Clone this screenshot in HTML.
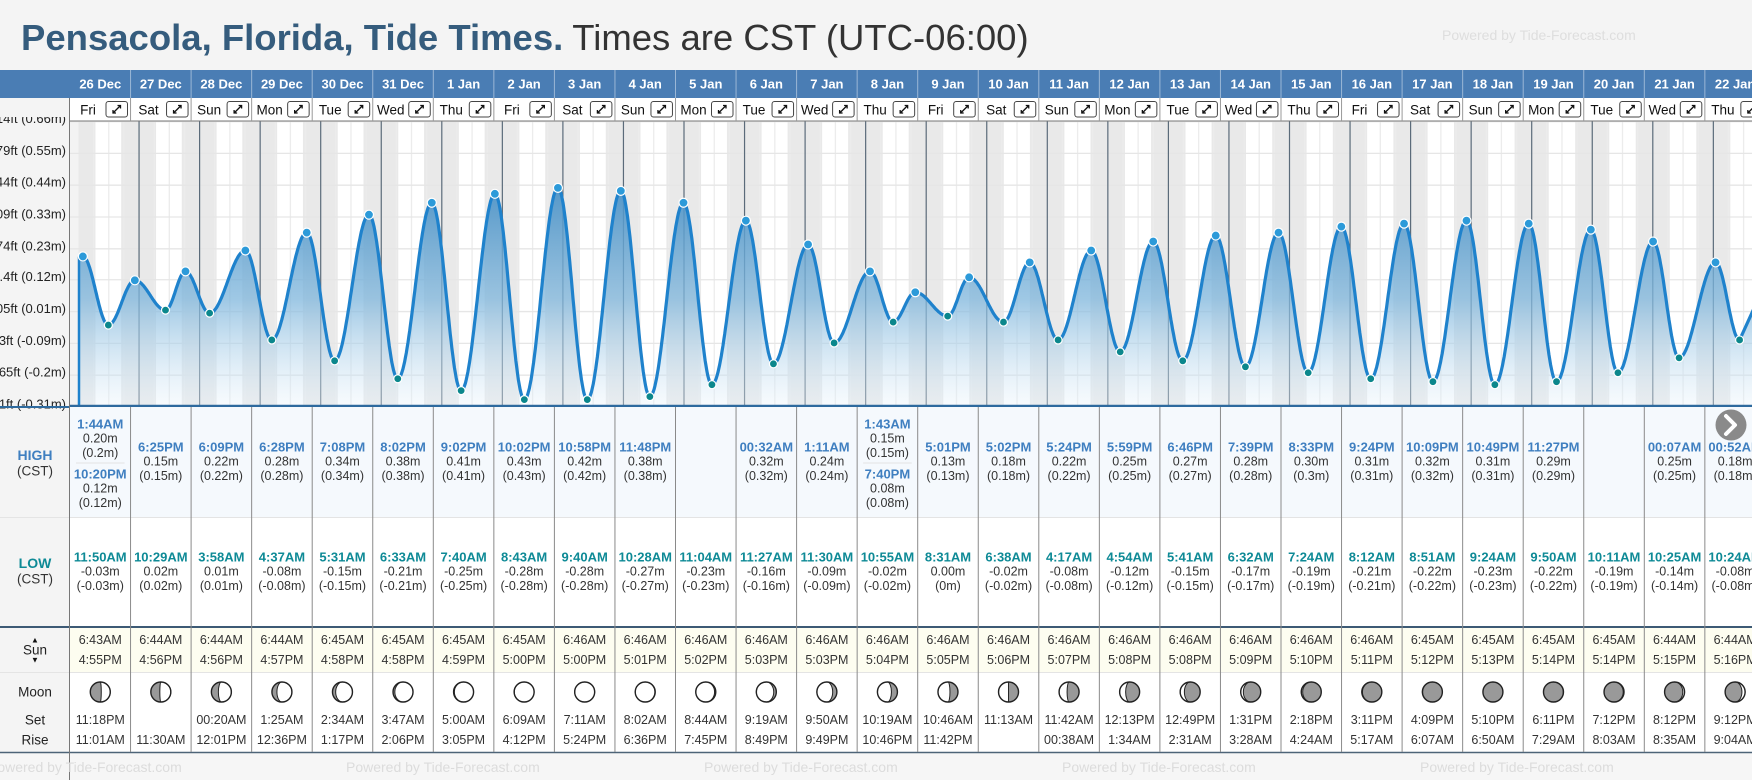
<!DOCTYPE html>
<html><head><meta charset="utf-8">
<style>
html,body{margin:0;padding:0;background:#f4f4f4;overflow:hidden}
svg{display:block;font-family:"Liberation Sans",sans-serif}
</style></head>
<body>
<svg id="root" width="1752" height="780" viewBox="0 0 1752 780" xmlns="http://www.w3.org/2000/svg">
<defs>
<linearGradient id="fillg" x1="0" y1="170" x2="0" y2="406" gradientUnits="userSpaceOnUse">
<stop offset="0" stop-color="#3f8ac2" stop-opacity="0.95"/>
<stop offset="0.55" stop-color="#7fb6dc" stop-opacity="0.75"/>
<stop offset="1" stop-color="#e8f3fb" stop-opacity="0.35"/>
</linearGradient>
<clipPath id="chartclip"><rect x="70" y="121" width="1682" height="285"/></clipPath>
</defs>
<rect x="0" y="0" width="1752" height="780" fill="#f4f4f4"/>
<text x="21" y="50" font-size="36.5"><tspan font-weight="bold" fill="#355c7d">Pensacola, Florida, Tide Times.</tspan><tspan fill="#333" dx="9">Times are CST (UTC-06:00)</tspan></text>
<text x="1442" y="40" font-size="14" fill="#dedede">Powered by Tide-Forecast.com</text>
<g id="g"></g>
</svg>
<script>
const days=["26 Dec","27 Dec","28 Dec","29 Dec","30 Dec","31 Dec","1 Jan","2 Jan","3 Jan","4 Jan","5 Jan","6 Jan","7 Jan","8 Jan","9 Jan","10 Jan","11 Jan","12 Jan","13 Jan","14 Jan","15 Jan","16 Jan","17 Jan","18 Jan","19 Jan","20 Jan","21 Jan","22 Jan"];
const weekdays=["Fri","Sat","Sun","Mon","Tue","Wed","Thu","Fri","Sat","Sun","Mon","Tue","Wed","Thu","Fri","Sat","Sun","Mon","Tue","Wed","Thu","Fri","Sat","Sun","Mon","Tue","Wed","Thu"];
// tide extremes: day index, time string, type, height (m)
const tideDay=[0,0,0,1,1,2,2,3,3,4,4,5,5,6,6,7,7,8,8,9,9,10,11,11,12,12,13,13,13,14,14,15,15,16,16,17,17,18,18,19,19,20,20,21,21,22,22,23,23,24,24,25,26,26,27,27];
const tideTime=["1:44AM","11:50AM","10:20PM","10:29AM","6:25PM","3:58AM","6:09PM","4:37AM","6:28PM","5:31AM","7:08PM","6:33AM","8:02PM","7:40AM","9:02PM","8:43AM","10:02PM","9:40AM","10:58PM","10:28AM","11:48PM","11:04AM","00:32AM","11:27AM","1:11AM","11:30AM","1:43AM","10:55AM","7:40PM","8:31AM","5:01PM","6:38AM","5:02PM","4:17AM","5:24PM","4:54AM","5:59PM","5:41AM","6:46PM","6:32AM","7:39PM","7:24AM","8:33PM","8:12AM","9:24PM","8:51AM","10:09PM","9:24AM","10:49PM","9:50AM","11:27PM","10:11AM","00:07AM","10:25AM","00:52AM","10:24AM"];
const tideType=["H","L","H","L","H","L","H","L","H","L","H","L","H","L","H","L","H","L","H","L","H","L","H","L","H","L","H","L","H","L","H","L","H","L","H","L","H","L","H","L","H","L","H","L","H","L","H","L","H","L","H","L","H","L","H","L"];
const tideHeight=[0.20,-0.03,0.12,0.02,0.15,0.01,0.22,-0.08,0.28,-0.15,0.34,-0.21,0.38,-0.25,0.41,-0.28,0.43,-0.28,0.42,-0.27,0.38,-0.23,0.32,-0.16,0.24,-0.09,0.15,-0.02,0.08,0.00,0.13,-0.02,0.18,-0.08,0.22,-0.12,0.25,-0.15,0.27,-0.17,0.28,-0.19,0.30,-0.21,0.31,-0.22,0.32,-0.23,0.31,-0.22,0.29,-0.19,0.25,-0.14,0.18,-0.08];
const yTickFt=[-1,-0.65,-0.3,0.05,0.4,0.74,1.09,1.44,1.79,2.14];
const yTickLabels=["-1ft (-0.31m)","-.65ft (-0.2m)","-.3ft (-0.09m)",".05ft (0.01m)","0.4ft (0.12m)",".74ft (0.23m)","1.09ft (0.33m)","1.44ft (0.44m)","1.79ft (0.55m)","2.14ft (0.66m)"];
const sunrise=["6:43AM","6:44AM","6:44AM","6:44AM","6:45AM","6:45AM","6:45AM","6:45AM","6:46AM","6:46AM","6:46AM","6:46AM","6:46AM","6:46AM","6:46AM","6:46AM","6:46AM","6:46AM","6:46AM","6:46AM","6:46AM","6:46AM","6:45AM","6:45AM","6:45AM","6:45AM","6:44AM","6:44AM"];
const sunset=["4:55PM","4:56PM","4:56PM","4:57PM","4:58PM","4:58PM","4:59PM","5:00PM","5:00PM","5:01PM","5:02PM","5:03PM","5:03PM","5:04PM","5:05PM","5:06PM","5:07PM","5:08PM","5:08PM","5:09PM","5:10PM","5:11PM","5:12PM","5:13PM","5:14PM","5:14PM","5:15PM","5:16PM"];
const moonIllum=[0.45,0.55,0.65,0.75,0.84,0.91,0.96,0.99,1.0,0.98,0.94,0.87,0.79,0.70,0.60,0.50,0.40,0.30,0.21,0.13,0.07,0.03,0.01,0.0,0.01,0.04,0.09,0.16];
const moonWaxing=[1,1,1,1,1,1,1,1,1,0,0,0,0,0,0,0,0,0,0,0,0,0,0,0,1,1,1,1];
const moonSet=["11:18PM","","00:20AM","1:25AM","2:34AM","3:47AM","5:00AM","6:09AM","7:11AM","8:02AM","8:44AM","9:19AM","9:50AM","10:19AM","10:46AM","11:13AM","11:42AM","12:13PM","12:49PM","1:31PM","2:18PM","3:11PM","4:09PM","5:10PM","6:11PM","7:12PM","8:12PM","9:12PM"];
const moonRise=["11:01AM","11:30AM","12:01PM","12:36PM","1:17PM","2:06PM","3:05PM","4:12PM","5:24PM","6:36PM","7:45PM","8:49PM","9:49PM","10:46PM","11:42PM","","00:38AM","1:34AM","2:31AM","3:28AM","4:24AM","5:17AM","6:07AM","6:50AM","7:29AM","8:03AM","8:35AM","9:04AM"];

const NS="http://www.w3.org/2000/svg";
const G=document.getElementById('g');
const X0=70, CW=60.55, MID0=78.5;
function mk(tag,attrs,parent){const e=document.createElementNS(NS,tag);for(const k in attrs)e.setAttribute(k,attrs[k]);(parent||G).appendChild(e);return e;}
function txt(x,y,s,attrs,parent){const e=mk('text',Object.assign({x:x,y:y,'text-anchor':'middle','dominant-baseline':'central'},attrs||{}),parent);e.textContent=s;return e;}
function hrs(s){const m=s.match(/(\d+):(\d+)(AM|PM)/);let h=+m[1]%12;if(m[3]==='PM')h+=12;return h+(+m[2])/60;}
function xT(t){return MID0+t*CW/24;}
function yFt(ft){return 407-(ft+1)*90.9;}
function yM(m){return yFt(m*3.28084);}
function fmtP(v){return '('+parseFloat(v.toFixed(2))+'m)';}

let e;
e=mk('rect',{x:0,y:98,width:70,height:682,fill:'#f4f4f4'});



// chart
const cg=mk('g',{'clip-path':'url(#chartclip)'});


mk('rect',{x:70,y:121,width:1682,height:285,fill:'#f3f3f3'},cg);
for(let i=0;i<days.length+1;i++){
  const d=Math.min(i,days.length-1);
  const sx=xT(i*24+hrs(sunrise[d])), ex=xT(i*24+hrs(sunset[d]));
  mk('rect',{x:xT(i*24),y:121,width:CW,height:285,fill:'#e9e9e9'},cg);
  e=mk('rect',{x:sx,y:121,width:ex-sx,height:285,fill:'#fff'},cg);
  
  
  for(let q=1;q<4;q++){const lx=xT(i*24+q*6);mk('line',{x1:lx,x2:lx,y1:121,y2:406,stroke:'#ececec','stroke-width':1.3},cg);}
}
yTickFt.forEach(f=>{const y=yFt(f);mk('line',{x1:70,x2:1752,y1:y,y2:y,stroke:'#e6e6e6','stroke-width':1.3},cg);});
for(let i=1;i<=days.length;i++){const lx=xT(i*24);e=mk('line',{x1:lx,x2:lx,y1:121,y2:406,stroke:'#5b6b7a','stroke-width':1.2},cg);

}
const T=tideTime.map((s,i)=>tideDay[i]*24+hrs(s));
let pts=[[Math.max(xT(0),79),yM(tideHeight[0])]];
for(let i=0;i<T.length-1;i++){
  const n=Math.max(4,Math.round((T[i+1]-T[i])*3));
  for(let k=0;k<n;k++){const u=k/n;const h=tideHeight[i]+(tideHeight[i+1]-tideHeight[i])*(1-Math.cos(Math.PI*u))/2;pts.push([xT(T[i]+(T[i+1]-T[i])*u),yM(h)]);}
}
pts.push([xT(T[T.length-1]),yM(tideHeight[T.length-1])]);
pts.push([1760,yM(tideHeight[T.length-1]+0.15)]);
const dl=pts.map((p,i)=>(i?'L':'M')+p[0].toFixed(1)+','+p[1].toFixed(1)).join(' ');
e=mk('path',{d:dl+' L1760,406 L79,406 Z',fill:'url(#fillg)'},cg);


e=mk('path',{d:dl,fill:'none',stroke:'#1f82cc','stroke-width':3.2,'stroke-linejoin':'round'},cg);


mk('line',{x1:79,x2:79,y1:yM(tideHeight[0]),y2:406,stroke:'#1f82cc','stroke-width':2.5},cg);
T.forEach((t,i)=>{const hi=tideType[i]==='H';e=mk('circle',{cx:xT(t),cy:yM(tideHeight[i]),r:hi?4.5:4,fill:hi?'#2c9ad9':'#0b878c',stroke:'#fff','stroke-width':1.2},cg);

});
mk('line',{x1:70,x2:1752,y1:406,y2:406,stroke:'#2e6a9e','stroke-width':2.5});

// y labels
yTickFt.forEach((f,i)=>{e=txt(66,yFt(f)-3,yTickLabels[i],{'text-anchor':'end','font-size':13,fill:'#222'});

});

// header bars (drawn after labels to cover top label)
e=mk('rect',{x:0,y:70,width:1752,height:28,fill:'#4a7db4'});


mk('rect',{x:0,y:98,width:69,height:19,fill:'#f4f4f4'});
e=mk('rect',{x:70,y:98,width:1682,height:23,fill:'#fff'});



// table backgrounds
e=mk('rect',{x:70,y:407,width:1682,height:110,fill:'#f5f9fd'});


e=mk('rect',{x:70,y:518,width:1682,height:108,fill:'#fff'});


e=mk('rect',{x:70,y:628,width:1682,height:45,fill:'#fdfdf0'});


e=mk('rect',{x:70,y:673,width:1682,height:79,fill:'#fff'});


e=mk('rect',{x:0,y:753,width:1752,height:27,fill:'#f6f6f6'});


mk('line',{x1:0,x2:1752,y1:517.5,y2:517.5,stroke:'#e4e4e4','stroke-width':1});
mk('line',{x1:0,x2:1752,y1:627,y2:627,stroke:'#3d5a75','stroke-width':2});
mk('line',{x1:0,x2:1752,y1:672.5,y2:672.5,stroke:'#e4e4e4','stroke-width':1});
mk('line',{x1:0,x2:1752,y1:752.5,y2:752.5,stroke:'#4d6478','stroke-width':1.5});
mk('line',{x1:0,x2:70,y1:407,y2:407,stroke:'#2e6a9e','stroke-width':2});
mk('line',{x1:69.5,x2:69.5,y1:98,y2:780,stroke:'#777','stroke-width':1});
mk('line',{x1:70,x2:1752,y1:121,y2:121,stroke:'#777','stroke-width':1});

// left labels
e=txt(35,455,'HIGH',{'font-size':14,'font-weight':'bold',fill:'#3f7fc0'});
txt(35,471,'(CST)',{'font-size':13.5,fill:'#333'});
e=txt(35,563,'LOW',{'font-size':14,'font-weight':'bold',fill:'#0e8a96'});
txt(35,579,'(CST)',{'font-size':13.5,fill:'#333'});
txt(35,640,'▲',{'font-size':8,fill:'#111'});
e=txt(35,650,'Sun',{'font-size':13.5,fill:'#222'});
txt(35,660,'▼',{'font-size':8,fill:'#111'});
e=txt(35,692,'Moon',{'font-size':13.5,fill:'#222'});
txt(35,720,'Set',{'font-size':13.5,fill:'#222'});
txt(35,740,'Rise',{'font-size':13.5,fill:'#222'});

// columns
days.forEach((d,i)=>{
  const x=X0+i*CW, cx=x+CW/2;
  if(i>0){mk('line',{x1:x,x2:x,y1:70,y2:98,stroke:'#9bb7d6','stroke-width':1});
    mk('line',{x1:x,x2:x,y1:98,y2:121,stroke:'#999','stroke-width':1});
    mk('line',{x1:x,x2:x,y1:407,y2:752,stroke:'#8a8a8a','stroke-width':1});}
  e=txt(cx,84,d,{'font-size':13,'font-weight':'bold',fill:'#fff'});
  
  
  e=txt(x+18,110,weekdays[i],{'font-size':13.5,fill:'#111'});
  
  
  const b=mk('g',{});
  
  
  mk('rect',{x:x+36,y:101.5,width:21.5,height:15.5,rx:2.5,fill:'#fff',stroke:'#444','stroke-width':1},b);
  mk('path',{d:`M${x+43},${113} L${x+50.5},${105.5} M${x+47.5},105.5 L${x+50.5},105.5 L${x+50.5},108.5 M${x+43},110 L${x+43},113 L${x+46},113`,stroke:'#111','stroke-width':1.3,fill:'none'},b);
  const hi=[],lo=[];
  tideDay.forEach((dd,k)=>{if(dd===i)(tideType[k]==='H'?hi:lo).push(k);});
  const hy=hi.length===2?[424,474]:[447];
  hi.forEach((k,j)=>{const y=hy[j];
    e=txt(cx,y,tideTime[k],{'font-size':13,'font-weight':'bold',fill:'#3f7fc0'});
    
    
    txt(cx,y+14.5,tideHeight[k].toFixed(2)+'m',{'font-size':12.5,fill:'#333'});
    txt(cx,y+29,fmtP(tideHeight[k]),{'font-size':12.5,fill:'#333'});
  });
  if(hi.length===2)mk('line',{x1:x+6,x2:x+CW-6,y1:463,y2:463,stroke:'#e2e2e2'});
  lo.forEach((k,j)=>{const y=557+j*45;
    e=txt(cx,y,tideTime[k],{'font-size':13,'font-weight':'bold',fill:'#0e8a96'});
    
    
    txt(cx,y+14.5,tideHeight[k].toFixed(2)+'m',{'font-size':12.5,fill:'#333'});
    txt(cx,y+29,fmtP(tideHeight[k]),{'font-size':12.5,fill:'#333'});
  });
  e=txt(cx,640,sunrise[i],{'font-size':12.5,fill:'#333'});
  
  
  e=txt(cx,660,sunset[i],{'font-size':12.5,fill:'#333'});
  
  
  const r=10, cy=692, f=moonIllum[i], w=moonWaxing[i];
  const mg=mk('g',{});
  
  
  mk('circle',{cx:cx,cy:cy,r:r,fill:'#999'},mg);
  if(f>0.005){const rx=r*Math.abs(1-2*f);
    const s1=w?1:0; const s2=w?(f>0.5?1:0):(f>0.5?0:1);
    mk('path',{d:`M${cx},${cy-r} A${r},${r} 0 0 ${s1} ${cx},${cy+r} A${rx.toFixed(2)},${r} 0 0 ${s2} ${cx},${cy-r} Z`,fill:'#fff',stroke:'#222','stroke-width':1},mg);}
  mk('circle',{cx:cx,cy:cy,r:r,fill:'none',stroke:'#222','stroke-width':1.4},mg);
  if(moonSet[i]){e=txt(cx,720,moonSet[i],{'font-size':12.5,fill:'#333'});
    
    }
  if(moonRise[i]){e=txt(cx,740,moonRise[i],{'font-size':12.5,fill:'#333'});
    
    }
});
[-12,346,704,1062,1420].forEach(fx=>{e=txt(fx,767,'Powered by Tide-Forecast.com',{'font-size':14,fill:'#dcdcdc','text-anchor':'start'});

});
const sa=mk('g',{});


mk('circle',{cx:1731,cy:425,r:15.5,fill:'#8a8a8a'},sa);
mk('path',{d:'M1726,416 L1735,425 L1726,434',stroke:'#fff','stroke-width':4,fill:'none','stroke-linecap':'round','stroke-linejoin':'round'},sa);
</script>
</body></html>
